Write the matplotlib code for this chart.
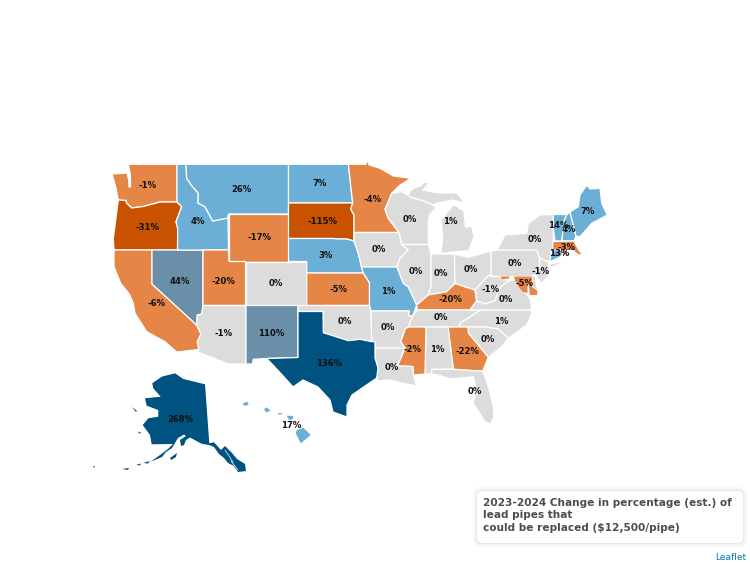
# recreate lead pipe change map, outlines (pixel units)
import matplotlib
matplotlib.use("Agg")
import matplotlib.pyplot as plt
from matplotlib.patches import Polygon, FancyBboxPatch

# colour per bin
bin_colors = {"gray": "#DCDCDC", "orange": "#E58646", "dkorange": "#C85200",
              "blue": "#6BAED6", "slate": "#6A8FA8", "navy": "#005280"}

# state outlines, neighbours share their border points
wa = [(128.3,164.3),(177,164.3),(177,202),(160,202),(143.3,206.5),(131.7,208),(126.5,203),(126,200.5),(118.3,200),(116,188),(112,174),(120,173.5),(127,173),(128.7,180),(129,187),(130.5,187),(130.5,176),(129.5,170)]
or_ = [(118.3,200),(126,200.5),(126.5,203),(131.7,208),(143.3,206.5),(160,202),(177,202),(181.7,206.7),(176,221.7),(177.7,228.3),(177.5,250),(114,250),(113.3,238.3)]
ca = [(114,250),(152,250),(152,284),(196.7,325),(201,334),(197.3,341.7),(199,349.5),(176.7,352),(165,341.7),(146.7,331.7),(135,313.3),(133.3,303.3),(129.3,294),(120.7,283.3),(114,266.7)]
nv = [(152,250),(203,250),(203,305.5),(201.7,314),(197.3,315),(196.7,325),(152,284)]
id_ = [(177,164.3),(186,164.3),(186.7,178.3),(192,186),(198.3,193.3),(198,203),(205,206.7),(212.7,221),(228,218),(228.5,250),(177.5,250),(177.7,228.3),(176,221.7),(181.7,206.7),(177,202)]
mt = [(186,164.3),(288.5,164.3),(288.5,214),(228.5,214),(228,218),(212.7,221),(205,206.7),(198,203),(198.3,193.3),(192,186),(186.7,178.3)]
wy = [(228.5,214),(288.5,214),(288.5,261.5),(229,261.5)]
ut = [(203,250),(228.5,250),(229,261.5),(245.5,261.5),(245.5,305.5),(203,305.5)]
co = [(245.5,261.5),(306.7,261.5),(306.7,305.5),(245.5,305.5)]
az = [(203,305.5),(246,305.5),(246,364),(228.3,364),(197.3,351.7),(199,349.5),(197.3,341.7),(201,334),(196.7,325),(197.3,315),(201.7,314)]
nm = [(246,305.5),(298,305.5),(298,357.5),(266.7,358.5),(253.3,359.3),(252.3,364),(246,364)]
nd = [(288.5,164.3),(348.3,164.3),(352.7,203),(288.5,203)]
sd = [(288.5,203),(352.7,203),(350.7,209.3),(354,215),(354,241),(346.7,239),(338.3,239),(333.3,238.5),(288.5,238.5)]
ne = [(288.5,238.5),(333.3,238.5),(338.3,239),(346.7,239),(354,241),(358.3,253.3),(361.5,267),(363.3,273),(306.7,273),(306.7,261.5),(288.5,261.5)]
ks = [(306.7,273),(363.3,273),(369.5,282.7),(369.5,305.5),(306.7,305.5)]
mn = [(348.3,164.3),(366,164.3),(366.7,159.3),(369.3,165),(380,168.3),(393.3,176),(411,178.3),(400,185),(391.7,193.3),(388.3,201.7),(385,209.3),(388.3,218.3),(399,232.5),(354,232.5),(354,215),(350.7,209.3),(352.7,203)]
ia = [(354,232.5),(399,232.5),(401.7,244.5),(408.3,250),(400,258.3),(397,267),(361.5,267),(358.3,253.3),(354,241)]
mo = [(361.5,267),(397,267),(403.3,283.3),(408.3,286.7),(416.7,305),(412.7,316),(408.3,316),(409.3,311),(370.7,311),(369.5,305.5),(369.5,282.7),(363.3,273)]
wi = [(391.7,193.3),(401.7,191.7),(408,195),(411,197.3),(423.3,200.7),(433.3,205),(436,208),(430,214),(428.3,221),(428.3,244.5),(401.7,244.5),(399,232.5),(388.3,218.3),(385,209.3),(388.3,201.7)]
mi_up = [(408,195),(412,189),(420,186),(424,182),(429,183),(423,190),(432,192),(442,193),(457,193),(465,203),(452,200),(438,203),(433.3,205),(423.3,200.7),(411,197.3)]
mi_low = [(453.3,206),(455,206),(463.3,211.7),(465,228.3),(471,226.7),(473.3,236.7),(468.3,250),(441.7,252.7),(443.3,236.7),(441.7,220)]
il = [(401.7,244.5),(428.3,244.5),(431,254),(431,286.7),(428.3,295),(416.7,305),(408.3,286.7),(403.3,283.3),(397,267),(400,258.3),(408.3,250)]
in_ = [(431,254),(454.5,254),(455,283.5),(446.7,291.7),(428.3,295),(431,286.7)]
oh = [(454.5,254),(468.3,257.3),(491,251),(491,274),(485,279),(475,290),(470,288.5),(455,283.5)]
ky = [(417.3,310),(416.7,305),(428.3,295),(446.7,291.7),(455,283.5),(470,288.5),(475,290),(476.7,301),(470,310)]
tn = [(412.7,316),(417.3,310),(481,310),(460.7,322.7),(459,327),(408,327)]
nc = [(481,310),(530,310),(532,313),(526.7,325),(508.3,338.3),(498.3,329),(485,327),(459,327),(460.7,322.7)]
sc = [(468,327),(485,327),(498.3,329),(508.3,338.3),(501.7,346.7),(488.3,357.3),(478.3,345),(468.3,333)]
ga = [(448,327),(468,327),(468.3,333),(478.3,345),(488.3,357.3),(482.7,371),(478.3,371),(453.3,369.3),(451.7,356.7)]
al = [(426,327),(448,327),(451.7,356.7),(453.3,369.3),(431.7,369.3),(431.7,374),(425,374)]
fl = [(431.7,369.3),(453.3,369.3),(478.3,371),(482.7,371),(488,385),(493.3,406.7),(494,416.7),(490,424.3),(485,421.7),(473.3,403.3),(476.7,390),(473.3,376.7),(460,378),(450,379),(438.3,375),(431.7,374)]
ms = [(408,327),(426,327),(425,374),(413.5,375),(412.7,366.5),(397.3,366),(405,348.3),(400.7,341.7),(405,329)]
ar = [(370.7,311),(409.3,311),(408.3,316),(412.7,316),(408,327),(405,329),(400.7,341.7),(405,348.3),(375,348),(375,341.7),(371.7,341.7)]
la = [(375,348),(405,348.3),(397.3,366),(412.7,366.5),(413.5,375),(416.7,386),(403.3,383.3),(390,380),(376.7,381),(378,368),(375,358)]
ok = [(298,305.5),(369.5,305.5),(370.7,311),(371.7,341.7),(360,339.3),(348.3,340.7),(323.3,332.7),(323,311.5),(298,311.5)]
tx = [(298,311.5),(323,311.5),(323.3,332.7),(348.3,340.7),(360,339.3),(371.7,341.7),(375,341.7),(375,358),(378,368),(376.7,378),(352,395),(347,405),(347,417),(333,412),(330,400),(318,387),(303,380),(293,387),(285,378),(273,365),(266.7,358.5),(298,357.5)]
pa = [(491,251),(497,250),(536.7,250),(540,258.3),(539.3,267.3),(535,275),(531.7,276.5),(491,276.5)]
ny = [(497,250),(505,235),(526.7,233.3),(528.3,223.3),(540,215),(553.3,214.5),(553.3,250),(550.5,260),(548.3,262),(540,258.3),(536.7,250)]
long_island = [(550,265),(562,261.5),(553,266.5)]
nj = [(540,258.3),(548.3,262),(550,273.3),(541.7,283.3),(535,275),(539.3,267.3)]
de = [(531.7,276.5),(535,275),(537.5,291),(532,287)]
md = [(514,276.5),(531.7,276.5),(532,287),(537.5,291),(537,295),(530,295),(528.5,283),(527.5,283),(527.5,293),(523,292),(518.3,286.7),(515,280.7)]
md_west = [(500.7,276.5),(509.5,276.5),(509,278.5),(501.7,279.5)]
wv = [(491,274),(491,276.5),(500.7,276.5),(501.7,279.5),(510,280),(500,287.3),(495,300.7),(485,304),(476.7,301),(475,290),(485,279)]
va = [(470,310),(476.7,301),(485,304),(495,300.7),(500,287.3),(510,280),(515,280.7),(518.3,286.7),(526.7,294),(530,298.3),(531.7,308.3),(530,310)]
vt = [(553.3,214.5),(567,214.5),(563.5,222),(562,241),(555,241),(553.3,228)]
nh = [(567,214.5),(570,212),(575,232),(576,236),(574,241),(562,241),(563.5,222)]
me = [(570,212),(578.3,206.7),(580,195),(586.7,185),(590,189),(600,188.3),(601.7,203.3),(607.3,215),(591.7,223.3),(580,236.7),(576,236),(575,232)]
ma = [(552.7,241.5),(574,241),(576,245),(580,251.7),(583.3,254),(578.3,255),(573.3,250.7),(552.7,250)]
ct = [(552,250),(563,250),(562,256),(549.5,262)]
ri = [(563,250),(568,250.5),(567,255),(562,256)]
ak = [(152.3,383.3),(161.7,376.7),(175,373.3),(183.3,379),(205,384.3),(209.3,443.3),(214,442.3),(221,450),(225,446),(232,453),(237,459),(245,464),(246,471),(238,472),(234,466),(228,463),(224,458),(219,454),(214,447),(209,445),(201.7,443.8),(190,437.5),(186,440),(184,445),(181,446),(180,440),(186,436),(184,434.5),(178,438),(172,448),(166,452),(162,457),(155,460),(151,461.5),(160,455),(168,449),(173,444),(151.7,444.3),(150,435),(142.7,425),(148.3,418.3),(158.3,416.7),(158.3,410),(146.7,405.7),(145,398.3),(160.7,396.7),(153.3,388.3)]
ak_kodiak = [(170,458),(177,453),(176,457),(171,460)]
ak_lawrence = [(132,407),(137,411),(136,412)]
ak_nunivak = [(138,431.5),(141.5,433),(139,433.5)]
ak_chain1 = [(136,465),(141,463.5),(140,465.5)]
ak_chain2 = [(143,463),(150,461),(148,463.5)]
ak_chain3 = [(122,469),(129,468),(128,470)]
ak_dot = [(93,466),(95,466.5),(94,468)]
hi_big = [(296.7,430),(303.3,427.7),(310.7,435),(300.7,443.3),(295.7,433.3)]
hi_maui = [(286.7,415.7),(293.3,416),(293,418.5),(289.5,420.5)]
hi_molokai = [(277,413),(283,413.5),(280,415)]
hi_oahu = [(264,409.3),(266.7,407.3),(270.7,411),(266,412.3)]
hi_kauai = [(242.7,403.3),(247.3,401.7),(248.7,405),(244,405.7)]

# white channels through the Alaska panhandle
channel_x = [[225, 233], [231, 238]]
channel_y = [[450, 462], [461, 470]]

# state name, pieces, bin, label, label position
states = ["WA","OR","CA","NV","ID","MT","WY","UT","CO","AZ","NM","ND","SD","NE","KS","MN","IA","MO","WI","MI","IL","IN","OH","KY","TN","NC","SC","GA","AL","FL","MS","AR","LA","OK","TX","PA","NY","NJ","DE","MD","WV","VA","VT","NH","ME","MA","CT","RI","AK","HI"]
shapes = [[wa],[or_],[ca],[nv],[id_],[mt],[wy],[ut],[co],[az],[nm],[nd],[sd],[ne],[ks],[mn],[ia],[mo],[wi],[mi_up,mi_low],[il],[in_],[oh],[ky],[tn],[nc],[sc],[ga],[al],[fl],[ms],[ar],[la],[ok],[tx],[pa],[ny,long_island],[nj],[de],[md,md_west],[wv],[va],[vt],[nh],[me],[ma],[ct],[ri],
          [ak,ak_kodiak,ak_lawrence,ak_nunivak,ak_chain1,ak_chain2,ak_chain3,ak_dot],[hi_big,hi_maui,hi_molokai,hi_oahu,hi_kauai]]
bins = ["orange","dkorange","orange","slate","blue","blue","orange","orange","gray","gray","slate","blue","dkorange","blue","orange","orange","gray","blue","gray","gray","gray","gray","gray","orange","gray","gray","gray","orange","gray","gray","orange","gray","gray","gray","navy","gray","gray","gray","gray","orange","gray","gray","blue","blue","blue","orange","blue","orange","navy","blue"]
labels = ["-1%","-31%","-6%","44%","4%","26%","-17%","-20%","0%","-1%","110%","7%","-115%","3%","-5%","-4%","0%","1%","0%","1%","0%","0%","0%","-20%","0%","1%","0%","-22%","1%","0%","-2%","0%","0%","0%","136%","0%","0%","-1%","","-5%","-1%","0%","14%","4%","7%","-3%","13%","","268%","17%"]
label_x = [148,147,157,180,198,241,259,223,276,224,271,320,322,326,338,373,379,388,410,450,416,441,471,450,441,501,488,467,437,475,413,388,392,345,329,515,535,541,0,524,491,506,558,569,588,567,559,0,180,291]
label_y = [185,227,304,281,222,189,238,281,284,334,334,184,221,256,290,199,249,291,219,222,272,274,269,300,318,321,339,352,350,392,350,328,367,321,364,263,239,271,0,283,290,300,225,230,211,247,254,0,419,426]

title_lines = "2023-2024 Change in percentage (est.) of\nlead pipes that\ncould be replaced ($12,500/pipe)"

fig = plt.figure(figsize=(7.5, 5.63), dpi=100)
ax = fig.add_axes([0, 0, 1, 1])
ax.set_xlim(0, 750)
ax.set_ylim(563, 0)
ax.axis("off")

no_edge = ["AK", "HI", "MD"]
for name, pieces, b in zip(states, shapes, bins):
    for i, piece in enumerate(pieces):
        # small pieces would vanish under a white edge
        outlined = i == 0 and name not in no_edge
        ax.add_patch(Polygon(piece, closed=True, facecolor=bin_colors[b],
                             edgecolor="white" if outlined else "none",
                             linewidth=0.9 if outlined else 0, joinstyle="round",
                             zorder=3 if name == "MD" else 2))

for cx, cy in zip(channel_x, channel_y):
    ax.plot(cx, cy, color="white", linewidth=0.5, zorder=3)

for lab, x, y in zip(labels, label_x, label_y):
    if lab != "":
        ax.text(x, y, lab, fontsize=6.1, fontweight="bold", color="#111111",
                ha="center", va="center", zorder=4)

# legend box with soft shadow
for grow, alpha in zip([5, 3.5, 2, 1], [0.012, 0.018, 0.025, 0.03]):
    ax.add_patch(FancyBboxPatch((480 - grow, 494 - grow), 260 + 2 * grow, 46 + 2 * grow,
                                boxstyle="round,pad=3,rounding_size=%g" % (5 + grow),
                                facecolor="black", edgecolor="none", alpha=alpha))
ax.add_patch(FancyBboxPatch((480, 494), 260, 46, boxstyle="round,pad=3,rounding_size=5",
                            facecolor="white", edgecolor="none"))
ax.text(483, 515.5, title_lines, fontsize=7.6, fontweight="bold", color="#4D4D4D",
        ha="left", va="center", linespacing=1.33)
ax.text(746, 557, "Leaflet", fontsize=6.5, color="#0078A8", ha="right", va="center")

fig.savefig("out.png", dpi=100)
